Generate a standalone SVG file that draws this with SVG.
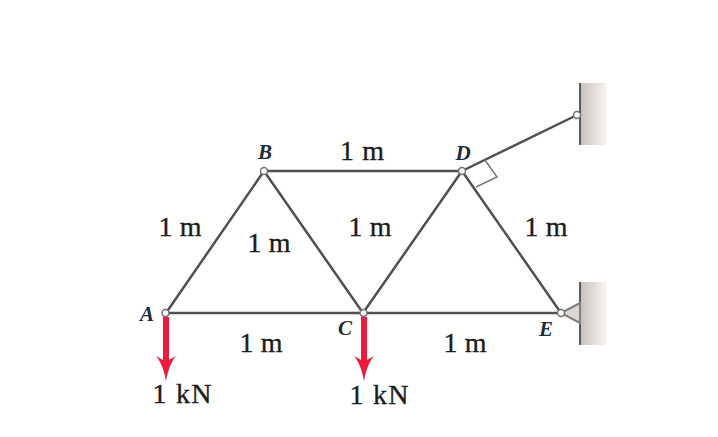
<svg xmlns="http://www.w3.org/2000/svg" width="718" height="437" viewBox="0 0 718 437">
<style>
.m{stroke:#505050;stroke-width:2.5;fill:none;stroke-linecap:round}
.j{fill:#fff;stroke:#707070;stroke-width:1.5}
.t{font-family:"Liberation Serif",serif;font-size:28px;fill:#1c1c1c;stroke:#1c1c1c;stroke-width:.35;text-anchor:middle}
.n{font-family:"Liberation Serif",serif;font-size:21px;font-weight:bold;font-style:italic;fill:#1f2a3a;text-anchor:middle}
.wall{fill:url(#g)}
.f{stroke:#ed1c3f;stroke-width:6;fill:none}
.h{fill:#ed1c3f}
</style>
<defs>
<linearGradient id="g" x1="0" x2="1" y1="0" y2="0"><stop offset="0" stop-color="#c8bfb9"/><stop offset="1" stop-color="#f8f7f6"/></linearGradient>
</defs>
<rect width="718" height="437" fill="#fff"/>
<g id="walls">
<rect class="wall" x="580" y="83" width="27" height="62"/>
<rect class="wall" x="580" y="282" width="27" height="63"/>
<path d="M580 83V145M580 282V345" stroke="#5a5a5a" stroke-width="2" fill="none"/>
<path d="M561 313L580 303V323Z" fill="#dcd7d2" stroke="#808080" stroke-width="2"/>
</g>
<g id="connectors">
<path class="m" d="M166 313H561M166 313L264 171M264 171H462M264 171L363 313M363 313L462 171M462 171L561 313M462 171L577 115"/>
<path d="M485 160L497 177L476 187" fill="none" stroke="#777" stroke-width="1.500"/>
</g>
<g id="forces">
<path class="f" d="M166 317V365"/><path class="h" d="M166 382C165 374 162 363 156 356L163 360L169 360L176 356C170 363 167 374 166 382Z"/>
<path class="f" d="M364 317V365"/><path class="h" d="M364 382C363 374 360 363 354 356L361 360L367 360L374 356C368 363 365 374 364 382Z"/>
</g>
<g id="node-A"><circle class="j" cx="165.500" cy="313" r="3.500"/><text class="n" x="147" y="321">A</text></g>
<g id="node-B"><circle class="j" cx="264" cy="171" r="3.500"/><text class="n" x="265" y="159">B</text></g>
<g id="node-C"><circle class="j" cx="363.500" cy="313" r="3.500"/><text class="n" x="345" y="335">C</text></g>
<g id="node-D"><circle class="j" cx="462" cy="171" r="3.500"/><text class="n" x="463" y="160">D</text></g>
<g id="node-E"><circle class="j" cx="561" cy="313" r="3.500"/><text class="n" x="546" y="336">E</text></g>
<g id="node-W"><circle class="j" cx="577" cy="115" r="3.500"/></g>
<g id="labels">
<text class="t" x="362" y="160" textLength="44" lengthAdjust="spacing">1 m</text>
<text class="t" x="180" y="236" textLength="43" lengthAdjust="spacing">1 m</text>
<text class="t" x="269" y="252" textLength="43" lengthAdjust="spacing">1 m</text>
<text class="t" x="370" y="236" textLength="43" lengthAdjust="spacing">1 m</text>
<text class="t" x="546" y="236" textLength="43" lengthAdjust="spacing">1 m</text>
<text class="t" x="261" y="352" textLength="43" lengthAdjust="spacing">1 m</text>
<text class="t" x="465" y="352" textLength="43" lengthAdjust="spacing">1 m</text>
<text class="t" x="182" y="403" textLength="59" lengthAdjust="spacing">1 kN</text>
<text class="t" x="379" y="404" textLength="59" lengthAdjust="spacing">1 kN</text>
</g>
</svg>
